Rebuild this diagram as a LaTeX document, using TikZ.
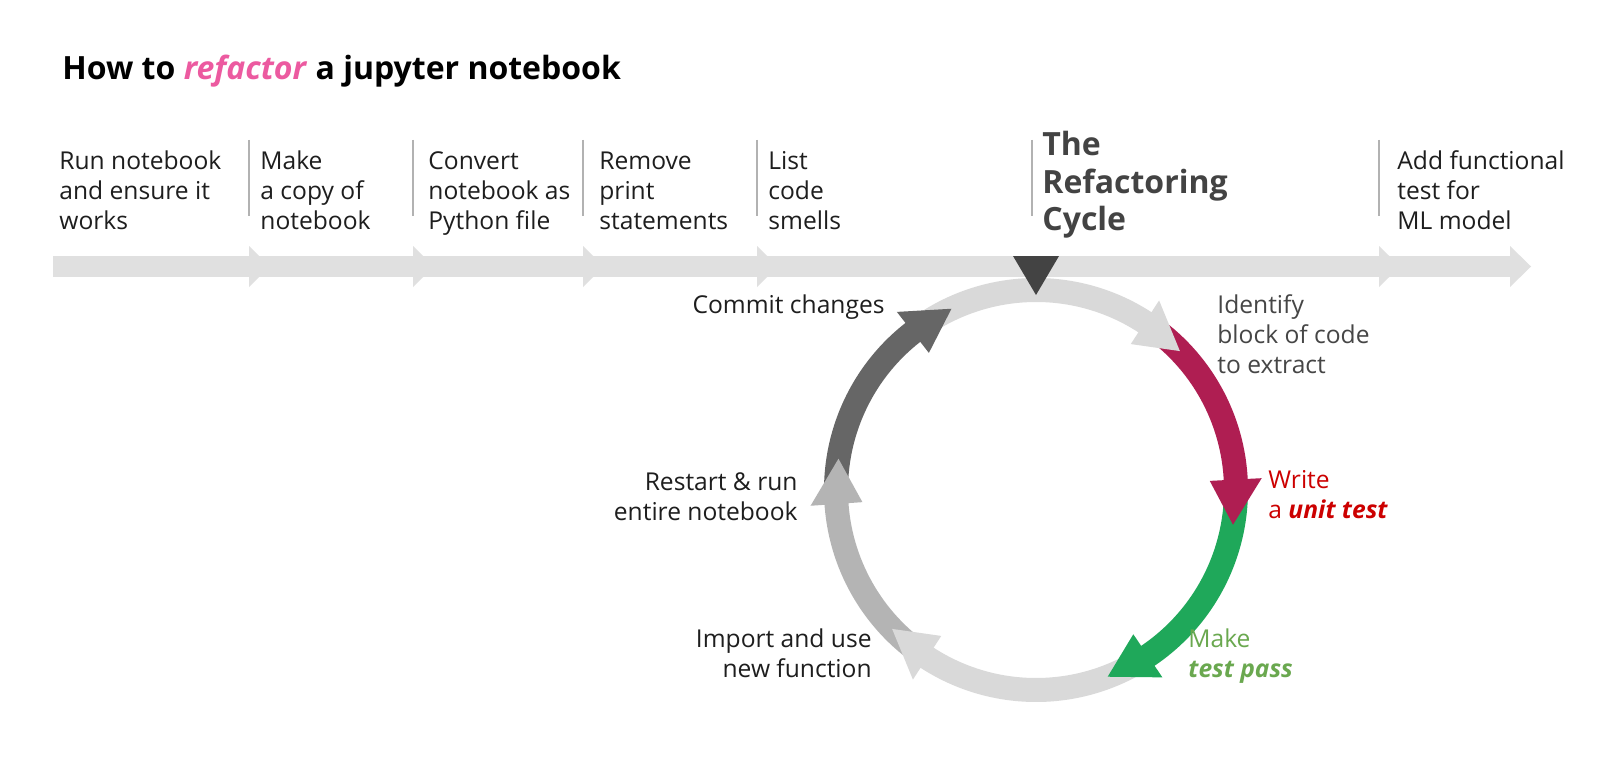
\documentclass[tikz,border=0pt]{standalone}
\usepackage{fontspec}
\setmainfont{Open Sans}
\usetikzlibrary{calc}
\definecolor{barGray}{RGB}{224,224,224}
\definecolor{sepGray}{RGB}{178,178,178}
\definecolor{markGray}{RGB}{67,67,67}
\definecolor{cycLight}{RGB}{217,217,217}
\definecolor{cycMid}{RGB}{180,180,180}
\definecolor{cycDark}{RGB}{102,102,102}
\definecolor{cycRed}{RGB}{175,30,82}
\definecolor{cycGreen}{RGB}{31,168,90}
\definecolor{titlePink}{RGB}{236,90,160}
\definecolor{txtDark}{RGB}{30,30,30}
\definecolor{txtLight}{RGB}{70,70,70}
\definecolor{txtRed}{RGB}{204,0,0}
\definecolor{txtGreen}{RGB}{106,168,79}
\tikzset{
  steptext/.style={anchor=base west, inner sep=0pt, align=left,
    font=\fontsize{12.3}{15.2}\selectfont, text=txtDark},
  cyclabel/.style={inner sep=0pt, font=\fontsize{12.3}{15}\selectfont, text=txtDark},
  sepline/.style={draw=sepGray, line width=1pt},
  ringbody/.style={line width=12pt},
  }
\newcommand{\utest}{\textbf{\textit{unit test}}}
\newcommand{\tpass}{\textbf{\textit{test pass}}}

\begin{document}
\begin{tikzpicture}[x=0.5pt,y=0.5pt]
  \fill[white] (0,0) rectangle (1600,762);
  \useasboundingbox (0,0) rectangle (1600,762);

  % Title
  \node[anchor=base west, inner sep=0pt, font=\fontsize{16}{19}\selectfont\bfseries] (title) at (62,682)
    {How to {\color{titlePink}\textit{refactor}} a jupyter notebook};

  % Timeline
  \fill[barGray] (53,485) rectangle (1512,506);
  \foreach \x in {249,413,583,757,1379,1510}
    \fill[barGray] (\x,516) -- (\x+21,495.5) -- (\x,475) -- cycle;

  % Separators
  \foreach \x in {249,413,583,757,1032,1379}
    \draw[sepline] (\x,622) -- (\x,546);

  % Steps (base = last line)
  \node[steptext] (s1) at (59,532)   {Run notebook\\and ensure it\\works};
  \node[steptext] (s2) at (260,532)  {Make\\a copy of\\notebook};
  \node[steptext] (s3) at (428,532)  {Convert\\notebook as\\Python file};
  \node[steptext] (s4) at (599,532)  {Remove\\print\\statements};
  \node[steptext] (s5) at (768,532)  {List\\code\\smells};
  \node[steptext, font=\fontsize{16}{18.75}\selectfont\bfseries, text=markGray] (s6) at (1042,531)
    {The\\Refactoring\\Cycle};
  \node[steptext] (s7) at (1397,532) {Add functional\\test for\\ML model};

  % Cycle
  \begin{scope}[shift={(1036,272)}]
    \foreach \from/\tip/\col in {183/115/cycDark, 127/44/cycLight, 56/-10/cycRed,
                                  2/-69/cycGreen, -57/-136/cycLight, -124/-189/cycMid}
      \draw[ringbody, draw=\col] (\from:200) arc[start angle=\from, end angle=\tip+12, radius=200];
    \foreach \tip/\col in {115/cycDark, 44/cycLight, -10/cycRed,
                           -69/cycGreen, -136/cycLight, -189/cycMid}
      \fill[\col] (\tip:200) -- (\tip+13:174) -- (\tip+13:226) -- cycle;
  \end{scope}

  % Marker
  \fill[markGray] (1013,506) -- (1059,506) -- (1036,467) -- cycle;

  % Cycle labels
  \node[cyclabel, anchor=base east] (commit) at (885,449) {Commit changes};
  \node[cyclabel, anchor=base west, align=left, text=txtLight] (identify) at (1217,389)
    {Identify\\block of code\\to extract};
  \node[cyclabel, anchor=base west, align=left, text=txtRed] (write) at (1268,244)
    {Write\\a \utest};
  \node[cyclabel, anchor=base west, align=left, text=txtGreen] (make) at (1188,85)
    {Make\\\tpass};
  \node[cyclabel, anchor=base east, align=right] (import) at (872,85)
    {Import and use\\new function};
  \node[cyclabel, anchor=base east, align=right] (restart) at (798,242)
    {Restart \& run\\entire notebook};
\end{tikzpicture}
\end{document}
